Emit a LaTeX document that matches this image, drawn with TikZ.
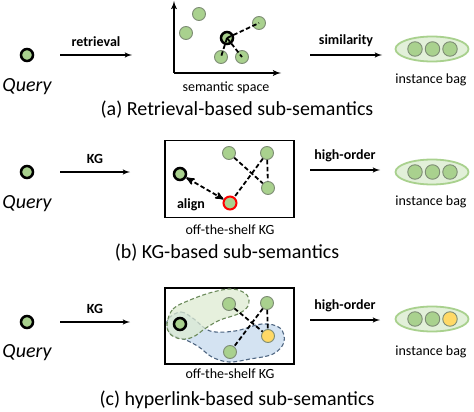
\documentclass[tikz,border=0pt]{standalone}
\usepackage{fontspec}
\setmainfont{Carlito}
\usetikzlibrary{shapes}
\usetikzlibrary{arrows}
\definecolor{nodegreen}{HTML}{A9D18E}
\definecolor{nodeedge}{HTML}{7D8C74}
\definecolor{bagfill}{HTML}{E2F0D9}
\definecolor{blobgreen}{HTML}{DDEBD2}
\definecolor{blobgreenedge}{HTML}{6B8A5A}
\definecolor{blobblue}{HTML}{C5D9EE}
\definecolor{blobblueedge}{HTML}{4F6681}
\definecolor{nodeyellow}{HTML}{FFD966}
\tikzset{
	basenode/.style = {
		circle,
		inner sep=0pt,
		minimum size=13pt
	},
	node_g/.style = {
		basenode,
		fill=nodegreen,
		draw=nodeedge,
		line width=0.9pt
	},
	node_q/.style = {
		basenode,
		fill=nodegreen,
		draw=black,
		line width=2.5pt,
		minimum size=12pt
	},
	node_r/.style = {
		node_g,
		draw=red,
		line width=2pt
	},
	node_y/.style = {
		node_g,
		fill=nodeyellow
	},
	node_bag/.style = {
		ellipse,
		fill=bagfill,
		draw=nodegreen,
		line width=1.8pt,
		minimum width=73pt,
		minimum height=25pt
	},
	node_item/.style = {
		node_g,
		minimum size=14.5pt
	},
	kgbox/.style = {
		rectangle,
		draw=black,
		line width=1.8pt,
		minimum width=129pt,
		minimum height=77pt
	},
	lbl_edge/.style = {
		font=\fontsize{14}{16}\selectfont\bfseries
	},
	lbl_text/.style = {
		font=\fontsize{14}{16}\selectfont
	},
	lbl_cap/.style = {
		font=\fontsize{20}{23}\selectfont
	},
	lbl_query/.style = {
		font=\fontsize{20}{23}\selectfont\itshape
	},
	link/.style = {
		line width=1.8pt,
		dash pattern=on 4.5pt off 2.5pt
	},
	flow/.style = {
		->,
		line width=1.5pt
	},
}

\begin{document}
\begin{tikzpicture}[x=1pt, y=-1pt, >=latex']
\useasboundingbox (0,0) rectangle (474,412);

% (a) retrieval
\node [node_q] (qa) at (27,55) {};
\node [lbl_query] (qa_txt) at (27,87) {Query};
\coordinate (ra_s) at (60,55);
\coordinate (ra_e) at (132,55);
\draw [flow] (ra_s) -- node [lbl_edge, above=4pt] {retrieval} (ra_e);

\coordinate (ax_o) at (174,73);
\coordinate (ax_y) at (174,1);
\coordinate (ax_x) at (281,73);
\draw [flow, line width=1.8pt] (ax_o) -- (ax_y);
\draw [flow, line width=1.8pt] (ax_o) -- (ax_x);
\node [node_g] (sa1) at (199,14) {};
\node [node_g] (sa2) at (186,33) {};
\node [node_g] (sa3) at (259,23) {};
\node [node_g] (sa4) at (221,57) {};
\node [node_g] (sa5) at (242,57) {};
\node [node_q] (saq) at (227,38) {};
\draw [link] (saq.center) -- (sa3.center);
\draw [link] (saq.center) -- (sa4.center);
\draw [link] (saq.center) -- (sa5.center);
\node [lbl_text] (sa_txt) at (226,88) {semantic space};

\coordinate (sim_s) at (310,55);
\coordinate (sim_e) at (382,55);
\draw [flow] (sim_s) -- node [lbl_edge, above=4pt] {similarity} (sim_e);
\node [node_bag] (bag_a) at (432,49) {};
\node [node_item] (ba1) at (415,49) {};
\node [node_item] (ba2) at (432.5,49) {};
\node [node_item] (ba3) at (450,49) {};
\node [lbl_text] (bag_a_txt) at (431,80) {instance bag};
\node [lbl_cap] (cap_a) at (237,110) {(a) Retrieval-based sub-semantics};

% (b) KG
\node [node_q] (qb) at (27,172) {};
\node [lbl_query] (qb_txt) at (27,204) {Query};
\coordinate (kb_s) at (60,172);
\coordinate (kb_e) at (130,172);
\draw [flow] (kb_s) -- node [lbl_edge, above=4pt] {KG} (kb_e);

\node [kgbox] (box_b) at (229.5,179) {};
\node [node_q] (qb_in) at (180,174) {};
\node [node_r] (kb_r) at (230,203) {};
\node [node_g] (kb1) at (229,153) {};
\node [node_g] (kb2) at (267,153) {};
\node [node_g] (kb3) at (268,188) {};
\draw [link] (kb1) -- (kb3);
\draw [link] (kb2) -- (kb3);
\draw [link] (kb2) -- (kb_r);
\draw [link, <->, >=stealth'] (qb_in) -- (kb_r);
\node [lbl_edge] (align_txt) at (191,205) {align};
\node [lbl_text] (box_b_txt) at (230,230) {off-the-shelf KG};

\coordinate (hb_s) at (310,170);
\coordinate (hb_e) at (380,170);
\draw [flow] (hb_s) -- node [lbl_edge, above=4pt] {high-order} (hb_e);
\node [node_bag] (bag_b) at (432,172) {};
\node [node_item] (bb1) at (415,172) {};
\node [node_item] (bb2) at (432.5,172) {};
\node [node_item] (bb3) at (450,172) {};
\node [lbl_text] (bag_b_txt) at (431,202) {instance bag};
\node [lbl_cap] (cap_b) at (227,253) {(b) KG-based sub-semantics};

% (c) hyperlink
\node [node_q] (qc) at (27,322) {};
\node [lbl_query] (qc_txt) at (27,353) {Query};
\coordinate (kc_s) at (60,322);
\coordinate (kc_e) at (130,322);
\draw [flow] (kc_s) -- node [lbl_edge, above=4pt] {KG} (kc_e);

\node [kgbox, minimum height=76pt] (box_c) at (229.5,326) {};
\draw [blobblueedge, fill=blobblue, fill opacity=0.75, line width=1.1pt, dash pattern=on 4pt off 2.5pt]
	plot [smooth cycle, tension=0.6] coordinates {(169,318) (181,312) (194,319) (210,331) (235,331) (262,324) (280,328) (284,342) (273,354) (250,359) (229,362) (212,357) (199,347) (186,340) (172,335) (167,326)};
\draw [blobgreenedge, fill=blobgreen, fill opacity=0.75, line width=1.1pt, dash pattern=on 4pt off 2.5pt]
	plot [smooth cycle, tension=0.6] coordinates {(167,324) (173,309) (190,300) (213,292) (233,289) (247,295) (248,306) (238,314) (220,320) (206,328) (193,337) (181,339) (170,334)};
\node [node_q] (qc_in) at (180,324) {};
\node [node_g] (kc1) at (229,304) {};
\node [node_g] (kc2) at (267,303) {};
\node [node_y] (kc3) at (268,336) {};
\node [node_g] (kc4) at (230,352) {};
\draw [link] (kc1) -- (kc3);
\draw [link] (kc2) -- (kc3);
\draw [link] (kc2) -- (kc4);
\node [lbl_text] (box_c_txt) at (230,374) {off-the-shelf KG};

\coordinate (hc_s) at (310,320);
\coordinate (hc_e) at (380,320);
\draw [flow] (hc_s) -- node [lbl_edge, above=4pt] {high-order} (hc_e);
\node [node_bag] (bag_c) at (432,319) {};
\node [node_item] (bc1) at (415,319) {};
\node [node_item] (bc2) at (432.5,319) {};
\node [node_item, fill=nodeyellow] (bc3) at (450,319) {};
\node [lbl_text] (bag_c_txt) at (431,352) {instance bag};
\node [lbl_cap] (cap_c) at (237,400) {(c) hyperlink-based sub-semantics};
\end{tikzpicture}
\end{document}
